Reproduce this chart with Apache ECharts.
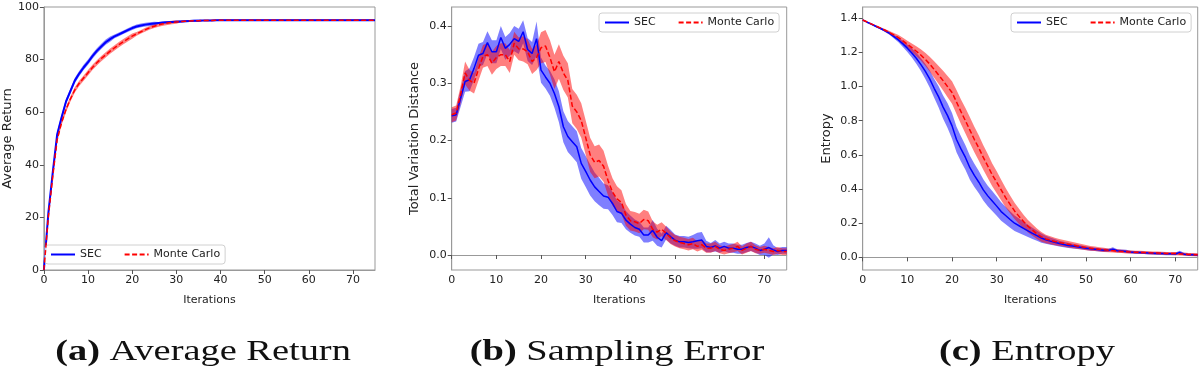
<!DOCTYPE html>
<html>
<head>
<meta charset="utf-8">
<script src="https://cdn.jsdelivr.net/npm/echarts@6/dist/echarts.min.js"></script>
<style>
  html, body { margin: 0; padding: 0; background: #fff; }
  #chart { width: 1200px; height: 369px; }
</style>
</head>
<body>
<div id="chart"></div>
<script>
// iterations 0..75 on the x axis
const iterations = Array.from({ length: 76 }, (_, i) => i);
const seriesNames = ["SEC", "Monte Carlo"];
const captions = ["(a)", "(b)", "(c)"];
const captionTitles = ["Average Return", "Sampling Error", "Entropy"];
const yNames = ["Average Return", "Total Variation Distance", "Entropy"];

// (a) average return
const returnSec = [
  0, 21.5, 37, 51.5, 58, 64, 68, 72, 74.7, 77,
  79, 81.3, 83.3, 85, 86.6, 87.8, 88.8, 89.6, 90.4, 91.2,
  92, 92.6, 93, 93.3, 93.5, 93.7, 93.9, 94.1, 94.2, 94.3,
  94.4, 94.5, 94.6, 94.7, 94.75, 94.8, 94.85, 94.9, 94.9, 94.95,
  95, 95, 95, 95, 95, 95, 95, 95, 95, 95,
  95, 95, 95, 95, 95, 95, 95, 95, 95, 95,
  95, 95, 95, 95, 95, 95, 95, 95, 95, 95,
  95, 95, 95, 95, 95, 95
];
const returnSecSd = [
  0.3, 1, 1, 1, 1, 1, 1, 1, 1, 1,
  1, 1, 1, 1, 1, 1, 0.7, 0.7, 0.7, 0.7,
  0.7, 0.7, 0.7, 0.7, 0.7, 0.7, 0.4, 0.4, 0.4, 0.4,
  0.4, 0.4, 0.4, 0.4, 0.4, 0.4, 0.2, 0.2, 0.2, 0.2,
  0.2, 0.2, 0.2, 0.2, 0.2, 0.2, 0.2, 0.2, 0.2, 0.2,
  0.2, 0.2, 0.2, 0.2, 0.2, 0.2, 0.2, 0.2, 0.2, 0.2,
  0.2, 0.2, 0.2, 0.2, 0.2, 0.2, 0.2, 0.2, 0.2, 0.2,
  0.2, 0.2, 0.2, 0.2, 0.2, 0.2
];
const returnMc = [
  0, 20, 35.5, 49.5, 56, 61, 65, 68.5, 71, 73,
  75, 77, 78.8, 80.4, 81.8, 83.2, 84.5, 85.7, 86.8, 87.9,
  88.9, 89.8, 90.6, 91.4, 92.1, 92.7, 93.2, 93.6, 93.9, 94.1,
  94.3, 94.45, 94.55, 94.65, 94.75, 94.8, 94.85, 94.9, 94.9, 94.95,
  95, 95, 95, 95, 95, 95, 95, 95, 95, 95,
  95, 95, 95, 95, 95, 95, 95, 95, 95, 95,
  95, 95, 95, 95, 95, 95, 95, 95, 95, 95,
  95, 95, 95, 95, 95, 95
];
const returnMcSd = [
  0.3, 1, 1, 1, 1, 1, 1, 1, 1, 1,
  1, 1, 1, 1, 1, 1, 1, 1, 1, 1,
  1, 0.7, 0.7, 0.7, 0.7, 0.7, 0.7, 0.7, 0.7, 0.7,
  0.7, 0.3, 0.3, 0.3, 0.3, 0.3, 0.3, 0.3, 0.3, 0.3,
  0.3, 0.2, 0.2, 0.2, 0.2, 0.2, 0.2, 0.2, 0.2, 0.2,
  0.2, 0.2, 0.2, 0.2, 0.2, 0.2, 0.2, 0.2, 0.2, 0.2,
  0.2, 0.2, 0.2, 0.2, 0.2, 0.2, 0.2, 0.2, 0.2, 0.2,
  0.2, 0.2, 0.2, 0.2, 0.2, 0.2
];

// (b) total variation distance
const tvdSec = [
  0.243, 0.245, 0.274, 0.303, 0.306, 0.326, 0.349, 0.352, 0.371, 0.355,
  0.355, 0.380, 0.361, 0.368, 0.378, 0.373, 0.390, 0.359, 0.352, 0.378,
  0.323, 0.311, 0.300, 0.282, 0.259, 0.224, 0.207, 0.198, 0.189, 0.160,
  0.146, 0.131, 0.119, 0.111, 0.103, 0.101, 0.090, 0.076, 0.073, 0.061,
  0.054, 0.048, 0.045, 0.035, 0.035, 0.043, 0.031, 0.025, 0.039, 0.032,
  0.026, 0.023, 0.023, 0.022, 0.023, 0.025, 0.026, 0.015, 0.013, 0.016,
  0.012, 0.015, 0.012, 0.012, 0.010, 0.010, 0.013, 0.015, 0.012, 0.008,
  0.010, 0.013, 0.009, 0.006, 0.008, 0.008
];
const tvdSecSd = [
  0.012, 0.012, 0.015, 0.018, 0.02, 0.02, 0.02, 0.02, 0.02, 0.02,
  0.02, 0.02, 0.02, 0.02, 0.022, 0.022, 0.02, 0.02, 0.02, 0.03,
  0.022, 0.02, 0.022, 0.025, 0.027, 0.027, 0.027, 0.027, 0.027, 0.027,
  0.027, 0.027, 0.025, 0.024, 0.022, 0.021, 0.02, 0.019, 0.017, 0.016,
  0.015, 0.014, 0.013, 0.013, 0.013, 0.018, 0.015, 0.012, 0.012, 0.012,
  0.01, 0.01, 0.01, 0.01, 0.012, 0.014, 0.014, 0.01, 0.008, 0.01,
  0.008, 0.008, 0.008, 0.008, 0.008, 0.008, 0.008, 0.008, 0.008, 0.008,
  0.01, 0.018, 0.008, 0.006, 0.006, 0.006
];
const tvdMc = [
  0.245, 0.248, 0.280, 0.318, 0.305, 0.300, 0.325, 0.347, 0.350, 0.335,
  0.345, 0.350, 0.350, 0.338, 0.370, 0.360, 0.360, 0.355, 0.338, 0.345,
  0.362, 0.365, 0.345, 0.320, 0.338, 0.318, 0.305, 0.260, 0.250, 0.235,
  0.205, 0.175, 0.162, 0.165, 0.155, 0.130, 0.110, 0.098, 0.092, 0.070,
  0.060, 0.058, 0.055, 0.062, 0.060, 0.045, 0.040, 0.045, 0.038, 0.030,
  0.025, 0.022, 0.020, 0.018, 0.020, 0.015, 0.018, 0.012, 0.012, 0.015,
  0.010, 0.008, 0.010, 0.012, 0.015, 0.008, 0.012, 0.015, 0.010, 0.008,
  0.010, 0.008, 0.006, 0.008, 0.006, 0.006
];
const tvdMcSd = [
  0.013, 0.013, 0.015, 0.02, 0.018, 0.018, 0.02, 0.02, 0.02, 0.02,
  0.02, 0.02, 0.02, 0.02, 0.02, 0.02, 0.022, 0.022, 0.022, 0.022,
  0.027, 0.028, 0.03, 0.03, 0.03, 0.03, 0.03, 0.03, 0.03, 0.03,
  0.03, 0.03, 0.028, 0.028, 0.027, 0.026, 0.024, 0.022, 0.021, 0.019,
  0.017, 0.017, 0.017, 0.017, 0.016, 0.014, 0.013, 0.012, 0.012, 0.011,
  0.01, 0.01, 0.01, 0.01, 0.01, 0.009, 0.009, 0.008, 0.008, 0.008,
  0.007, 0.007, 0.007, 0.007, 0.008, 0.007, 0.008, 0.008, 0.007, 0.006,
  0.006, 0.006, 0.006, 0.006, 0.006, 0.006
];

// (c) entropy
const entropySec = [
  1.39, 1.377, 1.365, 1.352, 1.34, 1.327, 1.312, 1.293, 1.273, 1.25,
  1.225, 1.197, 1.166, 1.13, 1.09, 1.045, 0.99, 0.94, 0.88, 0.83,
  0.77, 0.69, 0.635, 0.585, 0.525, 0.48, 0.44, 0.395, 0.36, 0.33,
  0.3, 0.268, 0.245, 0.222, 0.2, 0.185, 0.17, 0.155, 0.14, 0.127,
  0.113, 0.103, 0.095, 0.088, 0.081, 0.075, 0.07, 0.066, 0.062, 0.058,
  0.054, 0.05, 0.047, 0.044, 0.042, 0.041, 0.048, 0.039, 0.037, 0.035,
  0.031, 0.029, 0.028, 0.027, 0.025, 0.024, 0.023, 0.022, 0.021, 0.021,
  0.02, 0.028, 0.018, 0.016, 0.015, 0.014
];
const entropySecSd = [
  0.003, 0.003, 0.004, 0.005, 0.006, 0.007, 0.009, 0.011, 0.014, 0.018,
  0.022, 0.027, 0.032, 0.038, 0.044, 0.05, 0.056, 0.062, 0.068, 0.072,
  0.075, 0.075, 0.074, 0.072, 0.07, 0.068, 0.065, 0.062, 0.06, 0.058,
  0.056, 0.054, 0.051, 0.048, 0.045, 0.042, 0.039, 0.036, 0.033, 0.03,
  0.027, 0.024, 0.021, 0.019, 0.017, 0.016, 0.015, 0.014, 0.013, 0.012,
  0.011, 0.011, 0.01, 0.01, 0.01, 0.01, 0.011, 0.009, 0.009, 0.009,
  0.008, 0.008, 0.008, 0.008, 0.008, 0.008, 0.008, 0.008, 0.008, 0.008,
  0.008, 0.01, 0.007, 0.007, 0.007, 0.007
];
const entropyMc = [
  1.39, 1.378, 1.366, 1.354, 1.342, 1.33, 1.316, 1.302, 1.287, 1.268,
  1.248, 1.228, 1.207, 1.185, 1.16, 1.132, 1.1, 1.068, 1.035, 1.0,
  0.965, 0.91, 0.853, 0.8, 0.745, 0.69, 0.64, 0.585, 0.535, 0.483,
  0.44, 0.395, 0.35, 0.31, 0.272, 0.24, 0.21, 0.182, 0.16, 0.138,
  0.12, 0.108, 0.1, 0.093, 0.087, 0.082, 0.077, 0.072, 0.067, 0.062,
  0.057, 0.053, 0.05, 0.047, 0.044, 0.041, 0.039, 0.037, 0.035, 0.033,
  0.031, 0.03, 0.029, 0.028, 0.027, 0.026, 0.025, 0.024, 0.023, 0.023,
  0.022, 0.02, 0.019, 0.017, 0.016, 0.015
];
const entropyMcSd = [
  0.003, 0.003, 0.004, 0.005, 0.006, 0.007, 0.009, 0.012, 0.015, 0.018,
  0.021, 0.025, 0.029, 0.033, 0.038, 0.043, 0.048, 0.053, 0.058, 0.062,
  0.066, 0.07, 0.072, 0.074, 0.075, 0.075, 0.074, 0.072, 0.07, 0.067,
  0.064, 0.06, 0.056, 0.052, 0.048, 0.044, 0.04, 0.037, 0.034, 0.031,
  0.028, 0.025, 0.023, 0.022, 0.021, 0.02, 0.019, 0.018, 0.017, 0.016,
  0.015, 0.014, 0.013, 0.012, 0.012, 0.011, 0.011, 0.011, 0.01, 0.01,
  0.009, 0.009, 0.009, 0.009, 0.009, 0.009, 0.009, 0.009, 0.009, 0.009,
  0.009, 0.009, 0.009, 0.009, 0.009, 0.009
];

const panels = [
  { sec: returnSec, secSd: returnSecSd, mc: returnMc, mcSd: returnMcSd, min: 0, max: 100, interval: 20, digits: 0 },
  { sec: tvdSec, secSd: tvdSecSd, mc: tvdMc, mcSd: tvdMcSd, min: -0.0262, max: 0.4332, digits: 1 },
  { sec: entropySec, secSd: entropySecSd, mc: entropyMc, mcSd: entropyMcSd, min: -0.074, max: 1.466, digits: 1 },
];

const FONT = "DejaVu Sans";
const SPINE = "#999";
const gridLefts = [40, 451.7, 862.7];
const nameGaps = [29, 31, 30];
const legendPos = [
  { left: 45, top: 245 },
  { left: 599, top: 13 },
  { left: 1011, top: 13 },
];
const captionX = [203, 617, 1027];

const chart = echarts.init(document.getElementById("chart"), null, { renderer: "canvas" });

const grids = [];
const xAxes = [];
const yAxes = [];
const series = [];
const legends = [];
const graphics = [];

function band(idx, key, mean, sd, color) {
  const lo = mean.map((v, i) => +(v - sd[i]).toFixed(4));
  const diff = sd.map((s) => +(2 * s).toFixed(4));
  const stack = "band-" + idx + "-" + key;
  return [
    {
      name: key + "-lo-" + idx, type: "line", xAxisIndex: idx, yAxisIndex: idx,
      data: lo, stack, stackStrategy: "all", symbol: "none", silent: true,
      lineStyle: { opacity: 0 }, z: 1,
    },
    {
      name: key + "-band-" + idx, type: "line", xAxisIndex: idx, yAxisIndex: idx,
      data: diff, stack, stackStrategy: "all", symbol: "none", silent: true,
      lineStyle: { opacity: 0 }, areaStyle: { color, opacity: 1 }, z: 1,
    },
  ];
}

panels.forEach((p, idx) => {
  grids.push({
    left: gridLefts[idx], top: 7, width: 335, height: 263,
    show: true, borderColor: SPINE, borderWidth: 1, backgroundColor: "#fff",
  });
  xAxes.push({
    type: "category", gridIndex: idx, data: iterations, boundaryGap: false,
    name: "Iterations", nameLocation: "middle", nameGap: 25,
    nameTextStyle: { fontFamily: FONT, fontSize: 11, color: "#222" },
    axisLine: { lineStyle: { color: SPINE } },
    axisTick: { length: 4, lineStyle: { color: "#555" }, interval: (i) => i % 10 === 0 },
    axisLabel: { interval: (i) => i % 10 === 0, fontFamily: FONT, fontSize: 11, color: "#222", margin: 5 },
    splitLine: { show: false },
  });
  const y = {
    type: "value", gridIndex: idx, min: p.min, max: p.max,
    name: yNames[idx], nameLocation: "middle", nameGap: nameGaps[idx],
    nameTextStyle: { fontFamily: FONT, fontSize: 13, color: "#222" },
    axisLine: { show: true, lineStyle: { color: SPINE } },
    axisTick: { show: true, length: 4, lineStyle: { color: "#555" } },
    axisLabel: {
      fontFamily: FONT, fontSize: 11, color: "#222", margin: 5,
      showMinLabel: idx === 0, showMaxLabel: idx === 0,
      formatter: (v) => v.toFixed(p.digits),
    },
    splitLine: { show: false },
  };
  if (p.interval) y.interval = p.interval;
  else y.splitNumber = idx === 1 ? 5 : 7;
  yAxes.push(y);

  series.push(...band(idx, "sec", p.sec, p.secSd, "rgba(0,0,255,0.5)"));
  series.push(...band(idx, "mc", p.mc, p.mcSd, "rgba(255,0,0,0.5)"));
  series.push({
    name: "SEC", type: "line", xAxisIndex: idx, yAxisIndex: idx, data: p.sec,
    symbol: "none", lineStyle: { color: "#0000ff", width: idx === 0 ? 2 : 1.5 },
    itemStyle: { color: "#0000ff" }, z: 3,
  });
  series.push({
    name: "Monte Carlo", type: "line", xAxisIndex: idx, yAxisIndex: idx, data: p.mc,
    symbol: "none", lineStyle: { color: "#ff0000", width: 1.5, type: [5, 2.5] },
    itemStyle: { color: "#ff0000" }, z: 4,
  });

  legends.push({
    data: seriesNames, orient: "horizontal",
    left: legendPos[idx].left, top: legendPos[idx].top,
    itemWidth: 24, itemHeight: 10, itemGap: 22,
    padding: [4, 5, 4, 5],
    borderColor: "#d0d0d0", borderWidth: 1, borderRadius: 3,
    backgroundColor: "rgba(255,255,255,0.85)",
    itemStyle: { opacity: 0 },
    textStyle: { fontFamily: FONT, fontSize: 11, color: "#222" },
    selectedMode: false,
  });

  graphics.push({
    type: "text", x: captionX[idx], y: 352, scaleX: 1.28,
    style: {
      text: "{b|" + captions[idx] + "} " + captionTitles[idx],
      textAlign: "center", textVerticalAlign: "middle",
      fontFamily: "Liberation Serif", fontSize: 30, fill: "#111",
      rich: { b: { fontFamily: "Liberation Serif", fontSize: 30, fontWeight: "bold", fill: "#111" } },
    },
  });
});

chart.setOption({
  animation: false,
  backgroundColor: "#fff",
  grid: grids,
  xAxis: xAxes,
  yAxis: yAxes,
  legend: legends,
  series,
  graphic: graphics,
});
</script>
</body>
</html>
